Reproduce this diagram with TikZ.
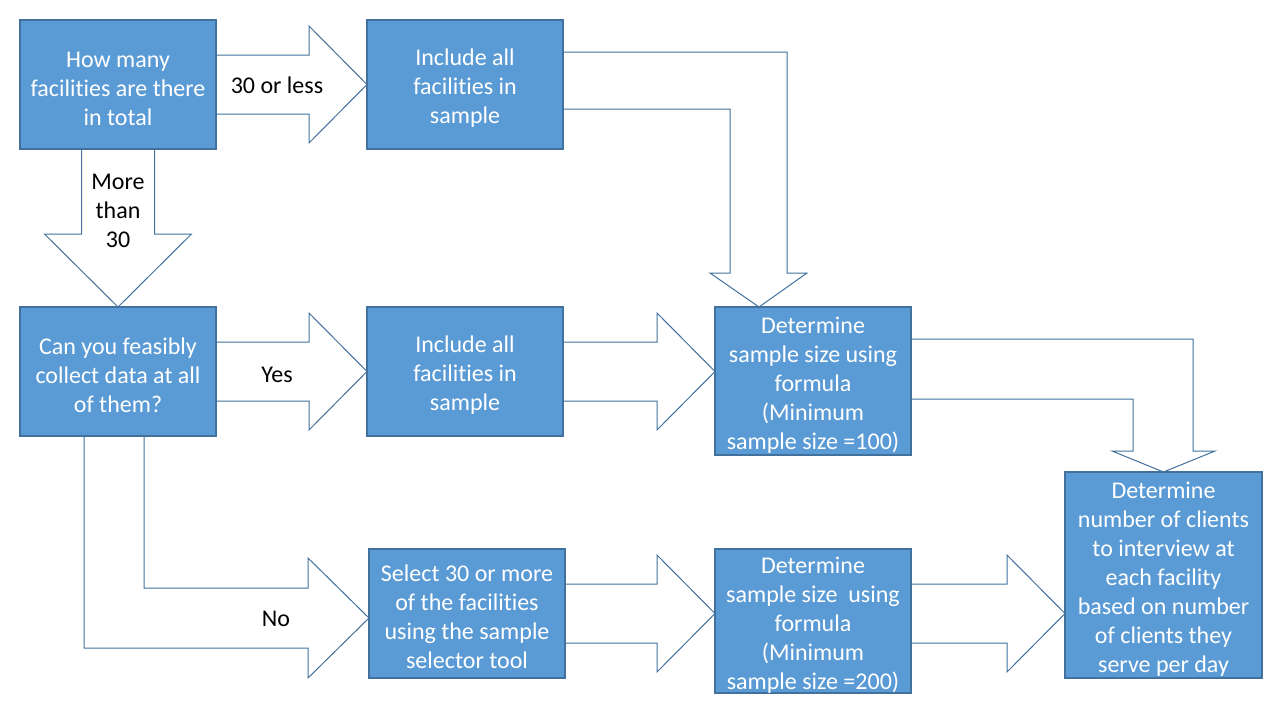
\documentclass[tikz,border=0pt]{standalone}
\usepackage{fontspec}
\setmainfont{Carlito}[Ligatures={NoCommon}]
\usetikzlibrary{positioning, calc, backgrounds}

\definecolor{boxblue}{HTML}{5B9BD5}
\definecolor{edgeblue}{HTML}{41719C}

% extra room above the first line of a box
\newcommand{\toppad}{\rule{0pt}{24pt}}

% straight block arrow pointing right, #1 start, #2 tip
\newcommand{\rightblock}[2]{%
  \draw[blockarrow] let \p1=#1, \p2=#2 in
    (\x1,\y1+29.5pt) -- (\x2-58pt,\y1+29.5pt) -- (\x2-58pt,\y1+58.5pt)
    -- (\x2,\y1) -- (\x2-58pt,\y1-58.5pt) -- (\x2-58pt,\y1-29.5pt)
    -- (\x1,\y1-29.5pt);%
}

\begin{document}
\begin{tikzpicture}[
    x=1pt, y=-1pt,
    stepbox/.style={
        rectangle,
        draw=edgeblue,
        line width=1.5pt,
        fill=boxblue,
        text=white,
        align=center,
        inner sep=0pt,
        outer sep=0pt,
        minimum width=196pt,
        minimum height=129pt,
        font=\fontsize{24}{29}\selectfont
    },
    blockarrow/.style={draw=edgeblue, line width=1pt, fill=white},
    armlabel/.style={align=center, inner sep=0pt, font=\fontsize{24}{29}\selectfont}
]
\useasboundingbox (0,0) rectangle (1280,720);

\node[stepbox, anchor=north west] (howmany) at (20,20) {
    \toppad How many\\
    facilities are there\\
    in total
};

\node[stepbox, right=151pt of howmany] (includetop) {
    \toppad Include all\\
    facilities in\\
    sample
};

\node[stepbox, below=158pt of howmany] (feasible) {
    \toppad Can you feasibly\\
    collect data at all\\
    of them?
};

\node[stepbox, right=151pt of feasible] (includemid) {
    \toppad Include all\\
    facilities in\\
    sample
};

\node[stepbox, anchor=north west, minimum height=148pt] (formulamid) at (715,307) {
    \toppad Determine\\
    sample size using\\
    formula\\
    (Minimum\\
    sample size =100)
};

\node[stepbox, anchor=north west] (selector) at (369,549) {
    \toppad Select 30 or more\\
    of the facilities\\
    using the sample\\
    selector tool
};

\node[stepbox, anchor=north west, minimum height=144pt] (formulalow) at (715,549) {
    \toppad Determine\\
    sample size\ \ using\\
    formula\\
    (Minimum\\
    sample size =200)
};

\node[stepbox, anchor=north west, minimum width=197pt, minimum height=206pt] (clients) at (1065,472) {
    \toppad Determine\\
    number of clients\\
    to interview at\\
    each facility\\
    based on number\\
    of clients they\\
    serve per day
};

\begin{scope}[on background layer]
% straight arrows
\rightblock{(howmany.east)}{(includetop.west)}
\rightblock{(feasible.east)}{(includemid.west)}
\rightblock{(includemid.east)}{(formulamid.west |- includemid.east)}
\rightblock{(selector.east)}{(formulalow.west |- selector.east)}
\rightblock{(formulalow.east |- selector.east)}{(clients.west |- selector.east)}

\draw[blockarrow] let \p1=(howmany.south), \p2=(feasible.north) in
    (\x1-36.5pt,\y1) -- (\x1-36.5pt,\y2+73pt) -- (\x1-73.5pt,\y2+73pt)
    -- (\x1,\y2) -- (\x1+73.5pt,\y2+73pt) -- (\x1+36.5pt,\y2+73pt)
    -- (\x1+36.5pt,\y1);

% bent arrows
\draw[blockarrow] (includetop.east |- 0,52) -- (787,52) -- (787,273) -- (807,273)
    -- (formulamid.north -| 759,0) -- (710,273) -- (730,273) -- (730,109)
    -- (includetop.east |- 0,109);
\draw[blockarrow] (formulamid.east |- 0,339) -- (1193,339) -- (1193,451) -- (1215,451)
    -- (clients.north) -- (1112,451) -- (1133,451) -- (1133,399)
    -- (formulamid.east |- 0,399);
\draw[blockarrow] (feasible.south -| 84,0) -- (84,648) -- (308,648) -- (308,678)
    -- (selector.west |- 0,618) -- (308,558) -- (308,588) -- (144,588)
    -- (feasible.south -| 144,0);

\node[armlabel] (lessthirty) at (277,85) {30 or less};
\node[armlabel] (morethirty) at (118,211) {More\\than\\30};
\node[armlabel] (yeslabel) at (277,375) {Yes};
\node[armlabel] (nolabel) at (276,619) {No};
\end{scope}

\end{tikzpicture}
\end{document}
